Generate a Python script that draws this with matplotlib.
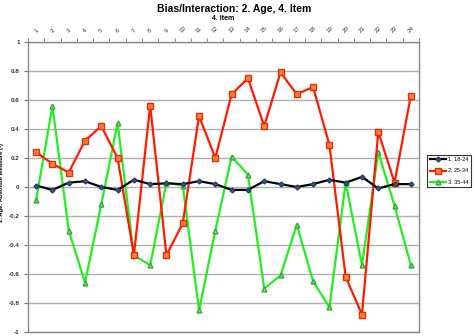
import matplotlib
matplotlib.use("Agg")
import matplotlib.pyplot as plt
import numpy as np

plt.rcParams['font.family'] = ['Liberation Sans', 'DejaVu Sans']

items = [str(i) for i in range(1, 25)]
s1_label = "1. 18-24"
s2_label = "2. 25-34"
s3_label = "3. 35-44"
s1 = [0.01, -0.02, 0.03, 0.04, 0.00, -0.02, 0.05, 0.02, 0.025, 0.02, 0.04, 0.02,
      -0.02, -0.02, 0.04, 0.02, 0.00, 0.02, 0.05, 0.03, 0.07, -0.01, 0.02, 0.02]
s2 = [0.24, 0.16, 0.10, 0.32, 0.42, 0.20, -0.47, 0.56, -0.47, -0.25, 0.49, 0.20,
      0.64, 0.75, 0.42, 0.79, 0.64, 0.69, 0.29, -0.62, -0.88, 0.38, 0.03, 0.63]
s3 = [-0.09, 0.56, -0.30, -0.66, -0.12, 0.44, -0.47, -0.54, 0.03, 0.01, -0.85, -0.30,
      0.21, 0.085, -0.70, -0.61, -0.26, -0.65, -0.83, 0.03, -0.54, 0.24, -0.13, -0.54]
yticks = [-1, -0.8, -0.6, -0.4, -0.2, 0, 0.2, 0.4, 0.6, 0.8, 1]

fig = plt.figure(figsize=(4.74, 3.36), dpi=100)
ax = fig.add_axes([28/474, 4/336, 391/474, 290/336])
x = np.arange(1, len(items) + 1)

ax.plot(x, s1, color='black', lw=1.6, marker='D', ms=2.5, mfc='#3a5a8c', mec='#2a3a6c', label=s1_label, zorder=4)
ax.plot(x, s2, color='#ff1a00', lw=1.6, marker='s', ms=4, mfc='#ff8040', mec='#e03000', label=s2_label, zorder=3)
ax.plot(x, s3, color='#22ee22', lw=1.6, marker='^', ms=3.5, mfc='#88dd88', mec='#33aa33', label=s3_label, zorder=2)

ax.set_xlim(0.5, len(items) + 0.5)
ax.set_ylim(-1, 1)
ax.set_yticks(yticks)
ax.set_yticklabels([("%g" % v) for v in yticks], fontsize=4.5, fontweight='bold', color='#333333')
ax.yaxis.grid(True, color='#b0b0b0', lw=1)
ax.set_axisbelow(True)

ax.xaxis.tick_top()
ax.set_xticks(x)
ax.set_xticklabels(items, rotation=45, fontsize=4.5, color='#333333')
ax.tick_params(axis='x', which='major', length=0, pad=6)
ax.set_xticks(np.arange(0.5, len(items) + 1, 1), minor=True)
ax.tick_params(axis='x', which='minor', length=3, color='#777777', top=True, bottom=False)
ax.tick_params(axis='y', length=3, color='#777777', pad=3)

for sp in ['top', 'left', 'right', 'bottom']:
    ax.spines[sp].set_color('#888888')
    ax.spines[sp].set_linewidth(1)

ax.set_xlabel("4. Item", fontsize=5, fontweight='bold')
ax.xaxis.set_label_position('top')
ax.set_ylabel("2. Age: Absolute Measure (-)", fontsize=4.2, fontweight='bold')
ax.yaxis.set_label_coords(-24/391, (183 - 42) / -290 + 1)

fig.text(234/474, 1 - 9/336, "Bias/Interaction: 2. Age, 4. Item", ha='center', va='center',
         fontsize=7.5, fontweight='bold')

leg = fig.legend(loc='center left', bbox_to_anchor=(427/474, 1 - 171/336), fontsize=4,
                 frameon=True, fancybox=False, edgecolor='black', handlelength=3.0,
                 borderpad=0.5, labelspacing=1.1, handletextpad=0.2, borderaxespad=0)
leg.get_frame().set_linewidth(0.8)

fig.savefig("out.png", dpi=100)
